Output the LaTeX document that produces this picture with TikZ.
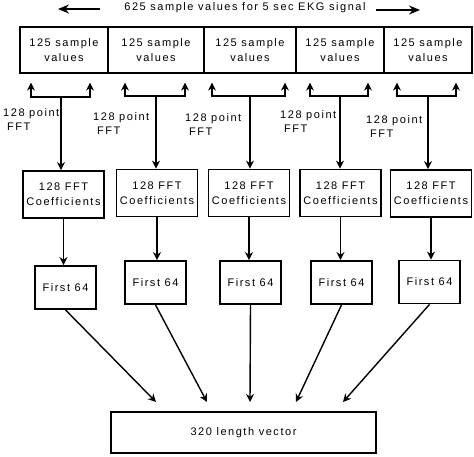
\documentclass[tikz,border=0pt]{standalone}
\usepackage{fontspec}
\newfontfamily\diagfont[LetterSpace=14]{Liberation Sans}
\usetikzlibrary{arrows.meta}

\begin{document}
\begin{tikzpicture}[
    x=1pt, y=-1pt,
    every node/.style={font=\diagfont\fontsize{11}{15}\selectfont, align=center, inner sep=0pt},
    cell/.style={draw, line width=1.2pt, minimum height=46pt}, % blocos do sinal
    coef/.style={draw, line width=1.8pt, minimum width=81pt, minimum height=47pt},
    first/.style={draw, line width=1.8pt, minimum width=61pt, minimum height=43pt},
    fft/.style={anchor=west, align=left, font=\diagfont\fontsize{11}{14}\selectfont},
    arrow/.style={line width=1.4pt, -{Stealth[length=8pt, width=8pt]}},
    longarrow/.style={line width=1.4pt, -{Stealth[length=11pt, width=9pt]}} % setas do titulo
    ]
    \useasboundingbox (0,0) rectangle (474,456);

    % titulo
    \node (title) at (245,8) {625 sample values for 5 sec EKG signal};
    \coordinate (la1) at (100,9);
    \coordinate (la2) at (58,9);
    \coordinate (ra1) at (376,10);
    \coordinate (ra2) at (420,10);
    \draw[longarrow] (la1) -- (la2);
    \draw[longarrow] (ra1) -- (ra2);

    % sinal dividido em 5 blocos
    \node[cell, minimum width=88pt] (c1) at (64,50) {125 sample\\values};
    \node[cell, minimum width=96pt] (c2) at (156,50) {125 sample\\values};
    \node[cell, minimum width=92pt] (c3) at (250,50) {125 sample\\values};
    \node[cell, minimum width=88pt] (c4) at (340,50) {125 sample\\values};
    \node[cell, minimum width=88pt] (c5) at (428,50) {125 sample\\values};

    \node[fft] (p1) at (3,120) {128 point\\\hspace*{4pt}FFT};
    \node[fft] (p2) at (93,123.5) {128 point\\\hspace*{4pt}FFT};
    \node[fft] (p3) at (185,125) {128 point\\\hspace*{4pt}FFT};
    \node[fft] (p4) at (280,122) {128 point\\\hspace*{4pt}FFT};
    \node[fft] (p5) at (366,127) {128 point\\\hspace*{4pt}FFT};

    \node[coef] (f1) at (63.5,194.5) {128 FFT\\Coefficients};
    \node[coef] (f2) at (157,193) {128 FFT\\Coefficients};
    \node[coef] (f3) at (249,193) {128 FFT\\Coefficients};
    \node[coef] (f4) at (340.5,193) {128 FFT\\Coefficients};
    \node[coef] (f5) at (431,193.5) {128 FFT\\Coefficients};

    \node[first] (s1) at (65.5,287.5) {First 64};
    \node[first] (s2) at (155.5,282.5) {First 64};
    \node[first] (s3) at (250.5,282.5) {First 64};
    \node[first] (s4) at (341.5,282.5) {First 64};
    \node[first] (s5) at (429.5,282) {First 64};

    \node[draw, line width=1.8pt, minimum width=265pt, minimum height=41pt] (vec) at (243.5,432.5) {320 length vector};

    % bifurcacoes
    \coordinate (b1) at (61,97);
    \coordinate (b2) at (156,96);
    \coordinate (b3) at (250,96);
    \coordinate (b4) at (340,96);
    \coordinate (b5) at (428,96);
    \draw[arrow] (b1) -| ([shift={(-33pt,-9pt)}]c1.south);
    \draw[arrow] (b1) -| ([shift={(26pt,-9pt)}]c1.south);
    \draw[arrow] (b2) -| ([shift={(-31pt,-9pt)}]c2.south);
    \draw[arrow] (b2) -| ([shift={(29pt,-9pt)}]c2.south);
    \draw[arrow] (b3) -| ([shift={(-38pt,-9pt)}]c3.south);
    \draw[arrow] (b3) -| ([shift={(35pt,-9pt)}]c3.south);
    \draw[arrow] (b4) -| ([shift={(-30pt,-9pt)}]c4.south);
    \draw[arrow] (b4) -| ([shift={(28pt,-9pt)}]c4.south);
    \draw[arrow] (b5) -| ([shift={(-31pt,-9pt)}]c5.south);
    \draw[arrow] (b5) -| ([shift={(28pt,-9pt)}]c5.south);

    \draw[arrow] (b1) -- (b1 |- f1.north);
    \draw[arrow] (b2) -- (b2 |- f2.north);
    \draw[arrow] (b3) -- (b3 |- f3.north);
    \draw[arrow] (b4) -- (b4 |- f4.north);
    \draw[arrow] (b5) -- (b5 |- f5.north);

    \draw[arrow] (f1.south) -- (f1.south |- s1.north);
    \draw[arrow] (f2.south) -- (f2.south |- s2.north);
    \draw[arrow] (f3.south) -- (f3.south |- s3.north);
    \draw[arrow] (f4.south) -- (f4.south |- s4.north);
    \draw[arrow] (f5.south) -- (f5.south |- s5.north);

    % juncao no vetor final
    \coordinate (e1) at (156,402);
    \coordinate (e2) at (207,402);
    \coordinate (e3) at (250,402);
    \coordinate (e4) at (296,402);
    \coordinate (e5) at (343,402);
    \draw[arrow] (s1.south) -- (e1);
    \draw[arrow] (s2.south) -- (e2);
    \draw[arrow] (s3.south) -- (e3);
    \draw[arrow] (s4.south) -- (e4);
    \draw[arrow] (s5.south) -- (e5);
\end{tikzpicture}
\end{document}
